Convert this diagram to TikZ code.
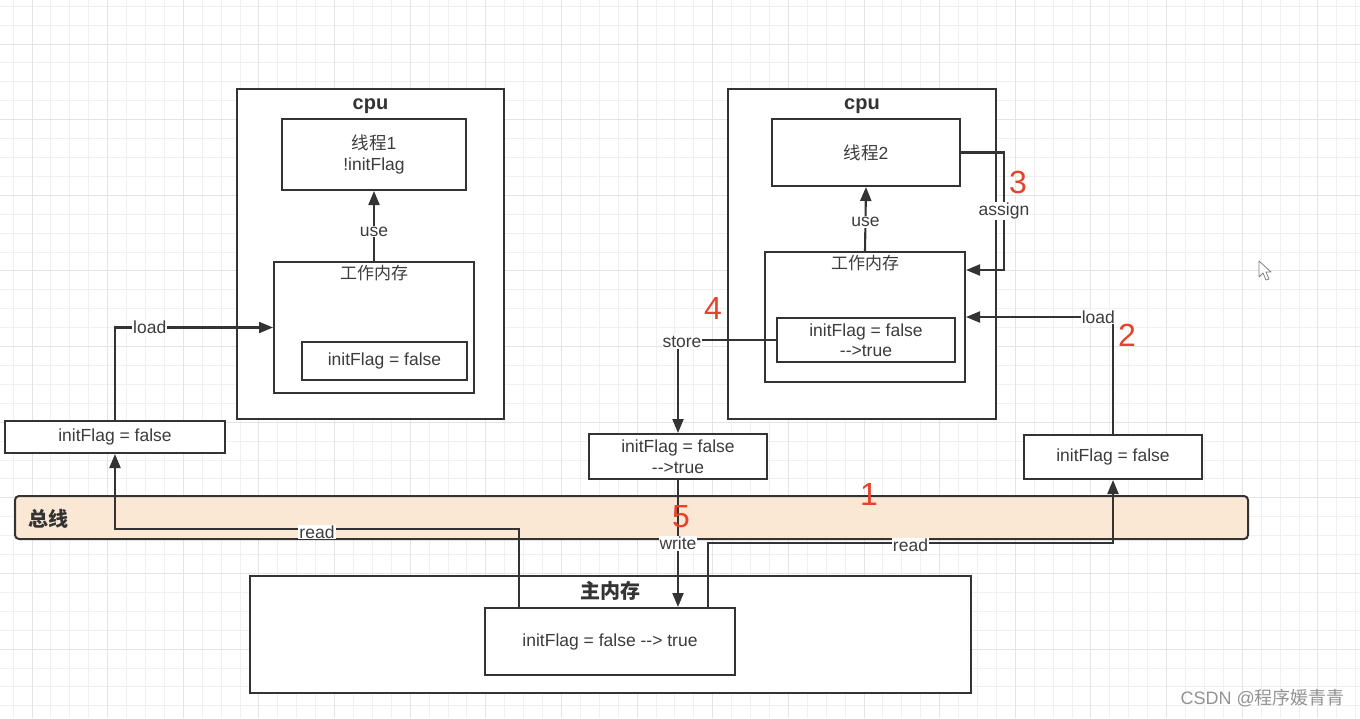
\documentclass[tikz,border=0pt]{standalone}
\usepackage{fontspec}
\setmainfont{Liberation Sans}
\newfontfamily\cjk{Noto Sans CJK SC}
\usetikzlibrary{arrows.meta,calc}
\definecolor{ln}{HTML}{333333}
\definecolor{tx}{HTML}{3C3C3C}
\definecolor{busfill}{HTML}{FAE8D4}
\definecolor{rednum}{HTML}{E8412C}
\definecolor{gridminor}{HTML}{F0F0F0}
\definecolor{gridmajor}{HTML}{E4E4E4}
\newcommand{\darr}{-{}-{}>}
\tikzset{
 box/.style={draw=ln, line width=2pt, fill=white, inner sep=0pt, text=tx, font=\fontsize{17.5}{20.5}\selectfont, align=center},
 title/.style={text=ln, font=\fontsize{20}{24}\selectfont\bfseries, inner sep=0pt},
 lbl/.style={fill=white, text=tx, font=\fontsize{17.5}{20}\selectfont, inner sep=1pt},
 arr/.style={draw=ln, line width=2.1pt, -{Triangle[length=14pt,width=11pt]}},
 num/.style={text=rednum, font=\fontsize{32}{36}\selectfont, inner sep=0pt},
}
\begin{document}
\begin{tikzpicture}[x=1pt,y=-1pt]
\useasboundingbox (0,0) rectangle (1360,718);
\fill[white] (0,0) rectangle (1360,718);
% grid
\foreach \k in {0,...,73} { \draw[gridminor, line width=1pt] ({-5.8+18.91*\k},0) -- ++(0,718); }
\foreach \k in {0,...,38} { \draw[gridminor, line width=1pt] (0,{6.18+18.91*\k}) -- ++(1360,0); }
\foreach \k in {-1,...,17} { \draw[gridmajor, line width=1pt] ({32+75.64*\k},0) -- ++(0,718); }
\foreach \k in {0,...,9} { \draw[gridmajor, line width=1pt] (0,{44+75.64*\k}) -- ++(1360,0); }

% left cpu
\node[box, minimum width=267pt, minimum height=330pt] (cpu1) at (370.5,254) {};
\node[title] (cpu1t) at ($(cpu1.north)+(0,18)$) {cpu};
\node[box, minimum width=184pt, minimum height=71pt] (t1) at (374,154.5) {{\cjk 线程}1\\!initFlag};
\node[box, minimum width=200pt, minimum height=131pt] (wm1) at (374,327.5) {};
\node[text=tx, font=\fontsize{17}{20}\selectfont\cjk, inner sep=0pt] (wm1t) at ($(wm1.north)+(0,12)$) {工作内存};
\node[box, minimum width=165pt, minimum height=38pt] (v1) at (384.5,361) {initFlag = false};

% right cpu
\node[box, minimum width=268pt, minimum height=330pt] (cpu2) at (862,254) {};
\node[title] (cpu2t) at ($(cpu2.north)+(0,18)$) {cpu};
\node[box, minimum width=188pt, minimum height=67pt] (t2) at (866,152.5) {{\cjk 线程}2};
\node[box, minimum width=200pt, minimum height=130pt] (wm2) at (865,317) {};
\node[text=tx, font=\fontsize{17}{20}\selectfont\cjk, inner sep=0pt] (wm2t) at ($(wm2.north)+(0,12)$) {工作内存};
\node[box, minimum width=178pt, minimum height=44pt] (v2) at (866,340) {initFlag = false\\\darr true};

% outside values
\node[box, minimum width=220pt, minimum height=32pt] (lf) at (115,437) {initFlag = false};
\node[box, minimum width=178pt, minimum height=45pt] (mf) at (678,456.5) {initFlag = false\\\darr true};
\node[box, minimum width=178pt, minimum height=44pt] (rf) at (1113,457) {initFlag = false};

% bus
\node[draw=ln, line width=2pt, fill=busfill, rounded corners=4pt, minimum width=1233pt, minimum height=43pt, inner sep=0pt] (bus) at (631.5,517.5) {};
\node[title, anchor=west] (bust) at ($(bus.west)+(14,1)$) {\cjk 总线};

% main memory
\node[box, minimum width=721pt, minimum height=117pt] (mm) at (610.5,634.5) {};
\node[title] (mmt) at ($(mm.north)+(0,16)$) {\cjk 主内存};
\node[box, minimum width=250pt, minimum height=67pt] (mv) at (610,641.5) {initFlag = false \darr{} true};

% connectors
\coordinate (r1s) at ($(mv.north west)+(35,0)$);
\coordinate (r2s) at ($(mv.north east)+(-28,0)$);
\coordinate (as1) at ($(wm2.north east)+(0,19)$);
\draw[arr] (wm1.north) -- node[lbl,pos=0.42]{use} (t1.south);
\draw[arr] (wm2.north) -- node[lbl,pos=0.45]{use} (t2.south);
\draw[arr] (lf.north) |- node[lbl,pos=0.61]{load} (wm1.west);
\draw[arr] (r1s) -- ++(0,-78) -| node[lbl,pos=0.25,yshift=-3pt]{read} (lf.south);
\draw[arr] (r2s) -- ++(0,-64) -| node[lbl,pos=0.25,yshift=-2pt]{read} (rf.south);
\draw[arr] (mf.south) -- node[lbl]{write} (mf.south |- mv.north);
\draw[arr] (v2.west) -| node[lbl,pos=0.5,xshift=4pt,yshift=-2pt]{store} (mf.north);
\draw[arr] (t2.east) -- ++(43,0) |- node[lbl,pos=0.25]{assign} (as1);
\draw[arr] (rf.north) |- node[lbl,pos=0.55]{load} (wm2.east);

% step numbers
\node[num] (n1) at (869,494) {1};
\node[num] (n2) at (1127,335) {2};
\node[num] (n3) at (1018,182) {3};
\node[num] (n4) at (713,308) {4};
\node[num] (n5) at (681,517) {5};

% cursor
\draw[gray, fill=white, line width=0.8pt, line join=round] (1259,261) -- (1259,277) -- (1263,273) -- (1266,280) -- (1269,279) -- (1266,272) -- (1271,272) -- cycle;

% watermark
\node[text=gray!85, font=\fontsize{18}{20}\selectfont, anchor=east, inner sep=0pt] (wmk) at (1345,698) {CSDN @{\cjk 程序媛青青}};
\end{tikzpicture}
\end{document}
